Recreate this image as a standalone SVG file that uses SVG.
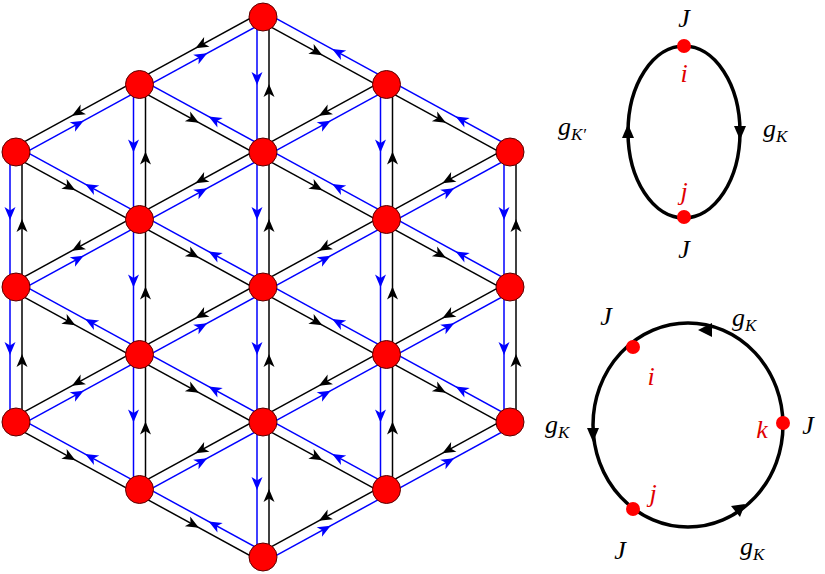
<svg xmlns="http://www.w3.org/2000/svg" xmlns:xlink="http://www.w3.org/1999/xlink" width="825" height="574" viewBox="0 0 825 574">
<style>
.bk{stroke:#000;stroke-width:1.5;fill:none}
.bl{stroke:#0000ff;stroke-width:1.5;fill:none}
.ab{fill:#000}
.au{fill:#0000ff}
.nd{fill:#ff0000;stroke:#5a0000;stroke-width:1}
.sn{fill:#ff0000}
.loop{fill:none;stroke:#000;stroke-width:3.5}
.m{font-family:"Liberation Serif","DejaVu Serif",serif;font-style:italic;font-size:26px;fill:#000}
.s{font-size:17px}
.r{fill:#e00000}
</style>
<defs>
<path id="ah" d="M0,0 L-13,-5.5 L-9.5,0 L-13,5.5 Z"/>
<g id="ev">
<line class="bl" x1="-6" y1="0" x2="-6" y2="135"/>
<line class="bk" x1="6" y1="0" x2="6" y2="135"/>
<use href="#ah" class="au" transform="translate(-6,68) rotate(90)"/>
<use href="#ah" class="ab" transform="translate(6,67) rotate(-90)"/>
</g>
<g id="eu">
<line class="bk" x1="-2.4" y1="-4.4" x2="121.1" y2="-71.9"/>
<line class="bl" x1="2.4" y1="4.4" x2="125.9" y2="-63.1"/>
<use href="#ah" class="ab" transform="translate(55.9,-36.3) rotate(151.2)"/>
<use href="#ah" class="au" transform="translate(67.7,-31.3) rotate(-28.8)"/>
</g>
<g id="ed">
<line class="bl" x1="2.4" y1="-4.4" x2="125.9" y2="63.1"/>
<line class="bk" x1="-2.4" y1="4.4" x2="121.1" y2="71.9"/>
<use href="#ah" class="ab" transform="translate(59.4,38.2) rotate(28.8)"/>
<use href="#ah" class="au" transform="translate(69.2,32) rotate(208.8)"/>
</g>
</defs>
<g id="connectors">
<use href="#ev" x="16" y="152"/><use href="#ev" x="16" y="287"/>
<use href="#ev" x="139.5" y="84.5"/><use href="#ev" x="139.5" y="219.5"/><use href="#ev" x="139.5" y="354.5"/>
<use href="#ev" x="263" y="17"/><use href="#ev" x="263" y="152"/><use href="#ev" x="263" y="287"/><use href="#ev" x="263" y="422"/>
<use href="#ev" x="386.5" y="84.5"/><use href="#ev" x="386.5" y="219.5"/><use href="#ev" x="386.5" y="354.5"/>
<use href="#ev" x="510" y="152"/><use href="#ev" x="510" y="287"/>
<use href="#eu" x="16" y="152"/><use href="#eu" x="16" y="287"/><use href="#eu" x="16" y="422"/>
<use href="#eu" x="139.5" y="84.5"/><use href="#eu" x="139.5" y="219.5"/><use href="#eu" x="139.5" y="354.5"/><use href="#eu" x="139.5" y="489.5"/>
<use href="#eu" x="263" y="152"/><use href="#eu" x="263" y="287"/><use href="#eu" x="263" y="422"/><use href="#eu" x="263" y="557"/>
<use href="#eu" x="386.5" y="219.5"/><use href="#eu" x="386.5" y="354.5"/><use href="#eu" x="386.5" y="489.5"/>
<use href="#ed" x="16" y="152"/><use href="#ed" x="16" y="287"/><use href="#ed" x="16" y="422"/>
<use href="#ed" x="139.5" y="84.5"/><use href="#ed" x="139.5" y="219.5"/><use href="#ed" x="139.5" y="354.5"/><use href="#ed" x="139.5" y="489.5"/>
<use href="#ed" x="263" y="17"/><use href="#ed" x="263" y="152"/><use href="#ed" x="263" y="287"/><use href="#ed" x="263" y="422"/>
<use href="#ed" x="386.5" y="84.5"/><use href="#ed" x="386.5" y="219.5"/><use href="#ed" x="386.5" y="354.5"/>
</g>
<g id="nodes">
<circle class="nd" r="14" cx="16" cy="152"/><circle class="nd" r="14" cx="16" cy="287"/><circle class="nd" r="14" cx="16" cy="422"/>
<circle class="nd" r="14" cx="139.5" cy="84.5"/><circle class="nd" r="14" cx="139.5" cy="219.5"/><circle class="nd" r="14" cx="139.5" cy="354.5"/><circle class="nd" r="14" cx="139.5" cy="489.5"/>
<circle class="nd" r="14" cx="263" cy="17"/><circle class="nd" r="14" cx="263" cy="152"/><circle class="nd" r="14" cx="263" cy="287"/><circle class="nd" r="14" cx="263" cy="422"/><circle class="nd" r="14" cx="263" cy="557"/>
<circle class="nd" r="14" cx="386.5" cy="84.5"/><circle class="nd" r="14" cx="386.5" cy="219.5"/><circle class="nd" r="14" cx="386.5" cy="354.5"/><circle class="nd" r="14" cx="386.5" cy="489.5"/>
<circle class="nd" r="14" cx="510" cy="152"/><circle class="nd" r="14" cx="510" cy="287"/><circle class="nd" r="14" cx="510" cy="422"/>
</g>
<g id="loop2">
<ellipse class="loop" cx="684" cy="132" rx="56" ry="86"/>
<polygon points="628,124 622,138 634,138" class="ab"/>
<polygon points="740,140 734,126 746,126" class="ab"/>
<circle class="sn" cx="684" cy="46" r="7"/>
<circle class="sn" cx="684" cy="217" r="7"/>
<text class="m" x="684" y="27" text-anchor="middle">J</text>
<text class="m r" x="684" y="82" text-anchor="middle">i</text>
<text class="m r" x="684" y="200" text-anchor="middle">j</text>
<text class="m" x="684" y="258" text-anchor="middle">J</text>
<text class="m" x="558" y="135">g<tspan class="s" dy="5">K′</tspan></text>
<text class="m" x="763" y="137">g<tspan class="s" dy="5">K</tspan></text>
</g>
<g id="loop3">
<ellipse class="loop" cx="688" cy="425" rx="95" ry="102"/>
<polygon points="698,330 712,323 712,337" class="ab"/>
<polygon points="593,442 587,428 599,428" class="ab"/>
<polygon points="745,504 731,506 740,517" class="ab"/>
<circle class="sn" cx="633" cy="347" r="7"/>
<circle class="sn" cx="783" cy="423" r="7"/>
<circle class="sn" cx="633" cy="509" r="7"/>
<text class="m" x="606" y="325" text-anchor="middle">J</text>
<text class="m" x="732" y="326">g<tspan class="s" dy="5">K</tspan></text>
<text class="m r" x="651" y="385" text-anchor="middle">i</text>
<text class="m r" x="762" y="438" text-anchor="middle">k</text>
<text class="m" x="808" y="434" text-anchor="middle">J</text>
<text class="m" x="545" y="433">g<tspan class="s" dy="5">K</tspan></text>
<text class="m r" x="653" y="502" text-anchor="middle">j</text>
<text class="m" x="620" y="559" text-anchor="middle">J</text>
<text class="m" x="740" y="555">g<tspan class="s" dy="5">K</tspan></text>
</g>
</svg>
